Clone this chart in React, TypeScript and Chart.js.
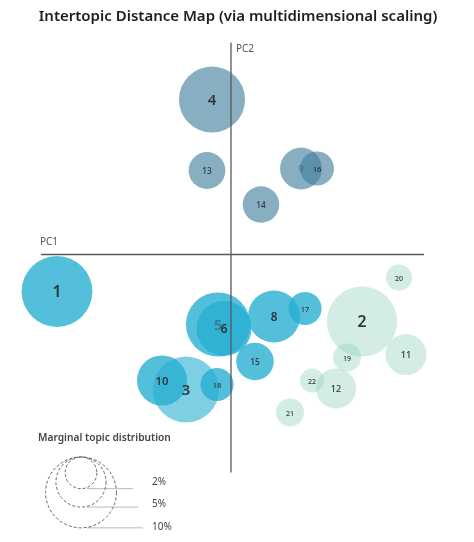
import { useEffect, useRef } from 'react';
import { Chart, registerables } from 'chart.js';

Chart.register(...registerables);

const TITLE = 'Intertopic Distance Map (via multidimensional scaling)';
const LEGEND_TITLE = 'Marginal topic distribution';
const X_AXIS_LABEL = 'PC1';
const Y_AXIS_LABEL = 'PC2';

// Topics in drawing order
const TOPICS = ['1', '2', '4', '13', '14', '9', '16', '5', '6', '8', '17', '15', '3', '10', '18', '11', '20', '19', '12', '22', '21'];
const PC1 = [-1.74, 1.31, -0.19, -0.24, 0.30, 0.70, 0.86, -0.13, -0.07, 0.43, 0.74, 0.24, -0.45, -0.69, -0.14, 1.75, 1.68, 1.16, 1.05, 0.81, 0.59];
const PC2 = [-0.37, -0.67, 1.55, 0.84, 0.50, 0.86, 0.86, -0.70, -0.74, -0.62, -0.54, -1.07, -1.35, -1.26, -1.30, -1.00, -0.23, -1.03, -1.34, -1.26, -1.58];
// marginal topic distribution, percent
const MARGINAL = [10.0, 9.8, 8.7, 2.7, 2.65, 3.5, 2.3, 8.2, 6.0, 5.4, 2.2, 2.8, 8.7, 5.0, 2.2, 3.35, 1.35, 1.56, 3.2, 1.15, 1.56];
// cluster: 0 = slate, 1 = cyan, 2 = mint
const CLUSTER = [1, 2, 0, 0, 0, 0, 0, 1, 1, 1, 1, 1, 1, 1, 1, 2, 2, 2, 2, 2, 2];
const FADED_LABELS = ['5', '9'];

const LEGEND_PCTS = [2, 5, 10];
const LEGEND_LABELS = ['2%', '5%', '10%'];

const AXIS_X_EXTENT = [-1.9, 1.93];
const AXIS_Y_EXTENT = [-2.18, 2.12];

const FONT = "'Noto Sans', 'Open Sans', sans-serif";
const RADIUS_K = 11.2;
const radiusOf = (pct: number) => RADIUS_K * Math.sqrt(pct);

const CLUSTER_COLORS = ['rgba(70,130,160,0.65)', 'rgba(40,175,210,0.8)', 'rgba(150,210,190,0.42)'];
const pointColor = (i: number) => (TOPICS[i] === '3' ? 'rgba(40,175,210,0.6)' : CLUSTER_COLORS[CLUSTER[i]]);

const overlay = {
  id: 'overlay',
  afterDatasetsDraw(chart: any) {
    const ctx = chart.ctx as CanvasRenderingContext2D;
    const xs = chart.scales.x;
    const ys = chart.scales.y;
    ctx.save();
    // axes
    ctx.strokeStyle = '#5a5a5a';
    ctx.lineWidth = 1.3;
    ctx.beginPath();
    ctx.moveTo(xs.getPixelForValue(AXIS_X_EXTENT[0]), ys.getPixelForValue(0));
    ctx.lineTo(xs.getPixelForValue(AXIS_X_EXTENT[1]), ys.getPixelForValue(0));
    ctx.moveTo(xs.getPixelForValue(0), ys.getPixelForValue(AXIS_Y_EXTENT[0]));
    ctx.lineTo(xs.getPixelForValue(0), ys.getPixelForValue(AXIS_Y_EXTENT[1]));
    ctx.stroke();
    ctx.fillStyle = '#555';
    ctx.font = `10px ${FONT}`;
    ctx.textBaseline = 'middle';
    ctx.textAlign = 'left';
    ctx.fillText(X_AXIS_LABEL, xs.getPixelForValue(AXIS_X_EXTENT[0]) - 1, ys.getPixelForValue(0) - 12);
    ctx.fillText(Y_AXIS_LABEL, xs.getPixelForValue(0) + 5, ys.getPixelForValue(AXIS_Y_EXTENT[1]) + 7);

    // labels
    ctx.textAlign = 'center';
    TOPICS.forEach((t, i) => {
      const r = radiusOf(MARGINAL[i]);
      const fs = Math.max(7, Math.min(16, r * 0.45));
      ctx.font = `${fs >= 11 ? 600 : 500} ${fs}px ${FONT}`;
      ctx.fillStyle = FADED_LABELS.includes(t) ? 'rgba(50,60,70,0.45)' : '#2f363c';
      ctx.fillText(t, xs.getPixelForValue(PC1[i]), ys.getPixelForValue(PC2[i]) + 1);
    });

    // title
    ctx.fillStyle = '#1e1e1e';
    ctx.font = `600 15px ${FONT}`;
    ctx.textAlign = 'center';
    ctx.fillText(TITLE, 238, 17);

    // legend
    ctx.textAlign = 'left';
    ctx.fillStyle = '#444';
    ctx.font = `600 10.2px ${FONT}`;
    ctx.fillText(LEGEND_TITLE, 38, 438);
    const cx = 81;
    const top = 457;
    const labelY = [482, 504, 527];
    LEGEND_PCTS.forEach((p, k) => {
      const r = radiusOf(p);
      const bottom = top + 2 * r;
      ctx.strokeStyle = '#bbb';
      ctx.lineWidth = 1;
      ctx.setLineDash([]);
      ctx.beginPath();
      ctx.moveTo(cx + 6, bottom);
      ctx.lineTo(133 + k * 5, bottom);
      ctx.stroke();
      ctx.strokeStyle = '#666';
      ctx.setLineDash([3, 2]);
      ctx.beginPath();
      ctx.arc(cx, top + r, r, 0, Math.PI * 2);
      ctx.stroke();
      ctx.setLineDash([]);
      ctx.fillStyle = '#444';
      ctx.font = `10px ${FONT}`;
      ctx.fillText(LEGEND_LABELS[k], 152, labelY[k]);
    });
    ctx.restore();
  },
};

export default function App() {
  const ref = useRef<HTMLCanvasElement>(null);
  useEffect(() => {
    if (!ref.current) return;
    const chart = new Chart(ref.current, {
      type: 'bubble',
      data: {
        datasets: [
          {
            data: TOPICS.map((_, i) => ({ x: PC1[i], y: PC2[i], r: radiusOf(MARGINAL[i]) })),
            backgroundColor: TOPICS.map((_, i) => pointColor(i)),
            borderWidth: 0,
            hoverRadius: 0,
            clip: false as any,
          },
        ],
      },
      options: {
        responsive: false,
        animation: false,
        events: [],
        layout: { padding: 0, autoPadding: false },
        plugins: { legend: { display: false }, tooltip: { enabled: false }, title: { display: false } },
        scales: {
          x: { type: 'linear', display: false, min: -2.31, max: 2.43 },
          y: { type: 'linear', display: false, min: -2.875, max: 2.545 },
        },
      },
      plugins: [overlay],
    });
    return () => chart.destroy();
  }, []);
  return (
    <div style={{ position: 'absolute', left: 0, top: 0, width: 474, height: 542, background: '#fff' }}>
      <canvas ref={ref} width={474} height={542} style={{ width: 474, height: 542 }} />
    </div>
  );
}
